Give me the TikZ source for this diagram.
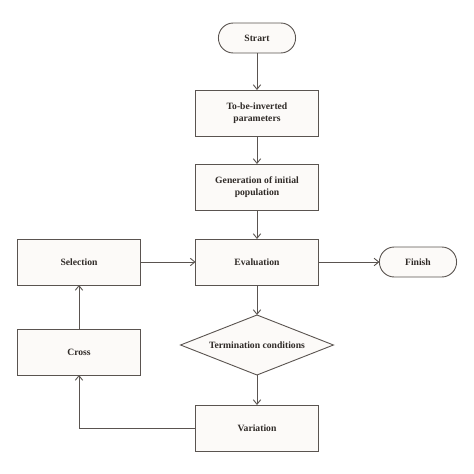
\documentclass[tikz,border=0pt]{standalone}
\usepackage{fontspec}
\setmainfont{Liberation Serif}
\usetikzlibrary{calc,positioning,shapes,shapes.geometric,arrows.meta}

\definecolor{linegray}{HTML}{5A5450}
\definecolor{boxfill}{HTML}{FCFAF8}
\definecolor{textgray}{HTML}{2F2A27}

\begin{document}
\begin{tikzpicture}[
  line width=0.9pt,
  font=\fontsize{9.6}{11.5}\selectfont\bfseries,
  text=textgray,
  process box/.style={
    rectangle,
    fill=boxfill,
    draw=linegray,
    minimum height=16.1mm, minimum width=43mm,
    outer sep=0pt,
    align=center
  },
  terminal/.style={
    rectangle, rounded corners=5.2mm,
    fill=boxfill,
    draw=linegray,
    minimum height=10.5mm, minimum width=27mm,
    outer sep=0pt
  },
  decision/.style={
    diamond, aspect=2.55,
    fill=boxfill,
    draw=linegray,
    inner sep=0pt,
    minimum height=21mm, minimum width=53.5mm,
    outer sep=0pt
  },
  flow/.style={
    draw=linegray,
    -{Straight Barb[length=1.6mm,width=2.6mm]}
  }
  ]
\useasboundingbox (-8.995,-7.42) rectangle (7.595,9.17);
% Evaluation
\node [process box] (evaluation) at (0,0) {Evaluation};
% Start
\node [terminal] (start) at ($(evaluation) + (0,7.84)$) {Strart};
% Parameters
\node [process box] (parameters) at ($(evaluation) + (0,5.215)$) {To-be-inverted\\ parameters};
\draw [flow] (start) -- (parameters);
% Initial population
\node [process box] (initial population) at ($(evaluation) + (0,2.625)$) {Generation of initial\\ population};
\draw [flow] (parameters) -- (initial population);
\draw [flow] (initial population) -- (evaluation);
% Finish
\node [terminal] (finish) at ($(evaluation) + (5.635,0)$) {Finish};
\draw [flow] (evaluation) -- (finish);
% Termination
\node [decision] (termination) at ($(evaluation) + (0,-2.905)$) {Termination conditions};
\draw [flow] (evaluation) -- (termination);
% Variation
\node [process box] (variation) at ($(evaluation) + (0,-5.81)$) {Variation};
\draw [flow] (termination) -- (variation);
% Cross
\node [process box] (cross) at ($(evaluation) + (-6.23,-3.15)$) {Cross};
\draw [flow] (variation.west) -| (cross.south);
% Selection
\node [process box] (selection) at ($(evaluation) + (-6.23,0)$) {Selection};
\draw [flow] (cross) -- (selection);
\draw [flow] (selection) -- (evaluation);
\end{tikzpicture}
\end{document}
